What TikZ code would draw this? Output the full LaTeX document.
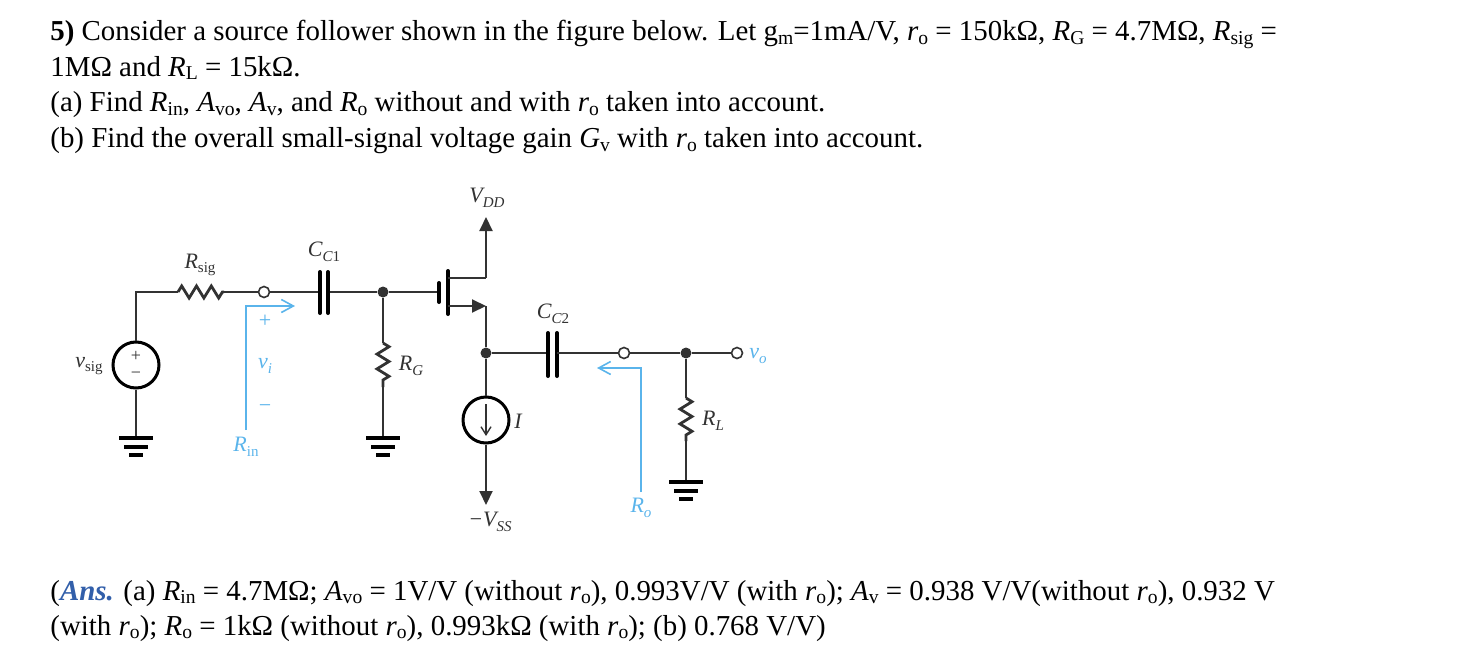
\documentclass[tikz,border=0pt]{standalone}
\usepackage{fontspec}
\setmainfont{Liberation Serif}
\usepackage{xcolor}
\usepackage{tikz}
\usetikzlibrary{arrows.meta,decorations.pathmorphing}
\definecolor{wirecol}{RGB}{50,50,50}
\definecolor{probecol}{RGB}{90,180,235}
\definecolor{anscol}{RGB}{50,95,170}
\newcommand{\sbs}[1]{\raisebox{-.3ex}{\fontsize{9.8}{10}\selectfont #1}}
\newcommand{\lbs}[1]{\raisebox{-.45ex}{\fontsize{7.5}{8}\selectfont #1}}
\newcommand{\lbu}[1]{\raisebox{-.45ex}{\fontsize{7.5}{8}\selectfont\upshape #1}}
\newcommand{\uo}{\textit{r}\sbs{o}}
\tikzset{
  textline/.style = {anchor=base west, inner sep=0pt, font=\fontsize{14.45}{16}\selectfont},
  lbl/.style = {inner sep=0pt, font=\fontsize{11}{13}\selectfont\itshape, text=wirecol},
  bluelbl/.style = {lbl, text=probecol},
  dotnode/.style = {circle, fill=wirecol, inner sep=0pt, minimum size=5.5pt},
  termnode/.style = {circle, draw=wirecol, fill=white, line width=.8pt, inner sep=0pt, minimum size=5.5pt},
  srcnode/.style = {circle, draw=black, line width=1.5pt, inner sep=0pt, minimum size=23pt},
  wire/.style = {draw=wirecol, line width=1pt},
  plate/.style = {draw=black, line width=2pt, line cap=round},
  res/.style = {wire, line width=1.4pt, decorate, decoration={zigzag, segment length=7.4pt, amplitude=3pt}},
  tipwire/.style = {wire, -{Stealth[length=7pt, width=6.5pt, inset=0pt]}},
  probe/.style = {draw=probecol, line width=.8pt, -{Straight Barb[length=6pt, width=6.5pt]}},
  gnd/.pic = {
    \draw[line width=1.9pt, black] (-17,0) -- (17,0);
    \draw[line width=1.9pt, black] (-12,9) -- (12,9);
    \draw[line width=1.9pt, black] (-7,17) -- (7,17);
  }
}
\begin{document}
\begin{tikzpicture}[x=0.5pt,y=-0.5pt]
  \useasboundingbox (0,0) rectangle (1470,658);
  % question text
  \node[textline] (q1) at (50,41) {\textbf{5)} Consider a source follower shown in the figure below. Let g\sbs{m}=1mA/V, \uo{} = 150kΩ, \textit{R}\sbs{G} = 4.7MΩ, \textit{R}\sbs{sig} =};
  \node[textline] (q2) at (50,76) {1MΩ and \textit{R}\sbs{L} = 15kΩ.};
  \node[textline] (q3) at (50,112) {(a) Find \textit{R}\sbs{in}, \textit{A}\sbs{vo}, \textit{A}\sbs{v}, and \textit{R}\sbs{o} without and with \uo{} taken into account.};
  \node[textline] (q4) at (50,148) {(b) Find the overall small-signal voltage gain \textit{G}\sbs{v} with \uo{} taken into account.};
  \node[textline] (a1) at (50,600) {(\textcolor{anscol}{\textbf{\textit{Ans.}}} (a) \textit{R}\sbs{in} = 4.7MΩ; \textit{A}\sbs{vo} = 1V/V (without \uo), 0.993V/V (with \uo); \textit{A}\sbs{v} = 0.938 V/V(without \uo), 0.932 V};
  \node[textline] (a2) at (50,635) {(with \uo); \textit{R}\sbs{o} = 1kΩ (without \uo), 0.993kΩ (with \uo); (b) 0.768 V/V)};

  % input side
  \node[srcnode] (vsig) at (136,365) {};
  \node[lbl, font=\fontsize{9}{9}\selectfont] (vplus) at (136,356) {+};
  \node[lbl, font=\fontsize{9}{9}\selectfont] (vminus) at (136,375) {−};
  \node[lbl] (vsiglbl) at (89,366) {v\lbu{sig}};
  \coordinate (gnd1) at (136,438);
  \coordinate (corner1) at (136,292);
  \coordinate (rs1) at (178,292);
  \coordinate (rs2) at (224,292);
  \node[termnode] (vi) at (264,292) {};
  \coordinate (c1a) at (320,292);
  \coordinate (c1b) at (328,292);
  \node[dotnode] (gate) at (383,292) {};
  \coordinate (rg1) at (383,343);
  \coordinate (rg2) at (383,387);
  \coordinate (gnd2) at (383,438);
  \draw[wire] (vsig) -- (gnd1);
  \draw[wire] (vsig) -- (corner1) -- (rs1);
  \draw[res] (rs1) -- (rs2);
  \draw[wire] (rs2) -- (vi);
  \draw[wire] (vi) -- (c1a);
  \draw[wire] (c1b) -- (gate);
  \draw[plate] (320,272) -- (320,313);
  \draw[plate] (328,272) -- (328,313);
  \draw[wire] (gate) -- (rg1);
  \draw[res] (rg1) -- (rg2);
  \draw[wire] (rg2) -- (gnd2);
  \pic at (gnd1) {gnd};
  \pic at (gnd2) {gnd};
  \node[lbl] (rsiglbl) at (200,265) {R\lbu{sig}};
  \node[lbl] (c1lbl) at (324,252) {C\lbs{C}\lbu{1}};
  \node[lbl] (rglbl) at (411,366) {R\lbs{G}};

  % mosfet
  \coordinate (gplate) at (439,292);
  \coordinate (dleft) at (448,278);
  \coordinate (dright) at (486,278);
  \coordinate (vdd) at (486,217);
  \coordinate (sleft) at (448,306);
  \node[dotnode] (out) at (486,353) {};
  \coordinate (sright) at (486,306);
  \draw[wire] (gate) -- (gplate);
  \draw[plate] (439,283) -- (439,302);
  \draw[plate] (448,271) -- (448,314);
  \draw[wire] (dleft) -- (dright);
  \draw[tipwire] (dright) -- (vdd);
  \draw[tipwire] (sleft) -- (sright);
  \draw[wire] (sright) -- (out);
  \node[lbl] (vddlbl) at (487,198) {V\lbs{DD}};

  % current source
  \node[srcnode] (isrc) at (486,420) {};
  \coordinate (vss) at (486,505);
  \coordinate (itop) at (486,404);
  \coordinate (ibot) at (486,436);
  \draw[wire] (out) -- (isrc);
  \draw[tipwire] (isrc) -- (vss);
  \draw[draw=wirecol, line width=.7pt, -{Straight Barb[length=4pt, width=5pt]}] (itop) -- (ibot);
  \node[lbl] (ilbl) at (518,421) {I};
  \node[lbl] (vsslbl) at (490,522) {−V\lbs{SS}};

  % output side
  \coordinate (c2a) at (548,353);
  \coordinate (c2b) at (557,353);
  \node[termnode] (vx) at (624,353) {};
  \node[dotnode] (rlnode) at (686,353) {};
  \node[termnode] (vo) at (737,353) {};
  \coordinate (rl1) at (686,398);
  \coordinate (rl2) at (686,441);
  \coordinate (gnd3) at (686,482);
  \draw[wire] (out) -- (c2a);
  \draw[plate] (548,333) -- (548,376);
  \draw[plate] (557,333) -- (557,376);
  \draw[wire] (c2b) -- (vx);
  \draw[wire] (vx) -- (rlnode);
  \draw[wire] (rlnode) -- (vo);
  \draw[wire] (rlnode) -- (rl1);
  \draw[res] (rl1) -- (rl2);
  \draw[wire] (rl2) -- (gnd3);
  \pic at (gnd3) {gnd};
  \node[lbl] (c2lbl) at (553,314) {C\lbs{C}\lbu{2}};
  \node[lbl] (rllbl) at (713,421) {R\lbs{L}};
  \node[bluelbl] (volbl) at (758,356) {v\lbs{o}};

  % probes
  \coordinate (rinstart) at (246,430);
  \coordinate (rincorner) at (246,306);
  \coordinate (rinend) at (295,306);
  \draw[probe] (rinstart) -- (rincorner) -- (rinend);
  \node[bluelbl] (rinlbl) at (246,447) {R\lbu{in}};
  \node[bluelbl, font=\fontsize{11}{13}\selectfont] (viplus) at (265,321) {+};
  \node[bluelbl] (vilbl) at (265,366) {v\lbs{i}};
  \node[bluelbl, font=\fontsize{11}{13}\selectfont] (viminus) at (265,409) {−};
  \coordinate (rostart) at (641,492);
  \coordinate (rocorner) at (641,368);
  \coordinate (roend) at (597,368);
  \draw[probe] (rostart) -- (rocorner) -- (roend);
  \node[bluelbl] (rolbl) at (641,508) {R\lbs{o}};
\end{tikzpicture}
\end{document}
